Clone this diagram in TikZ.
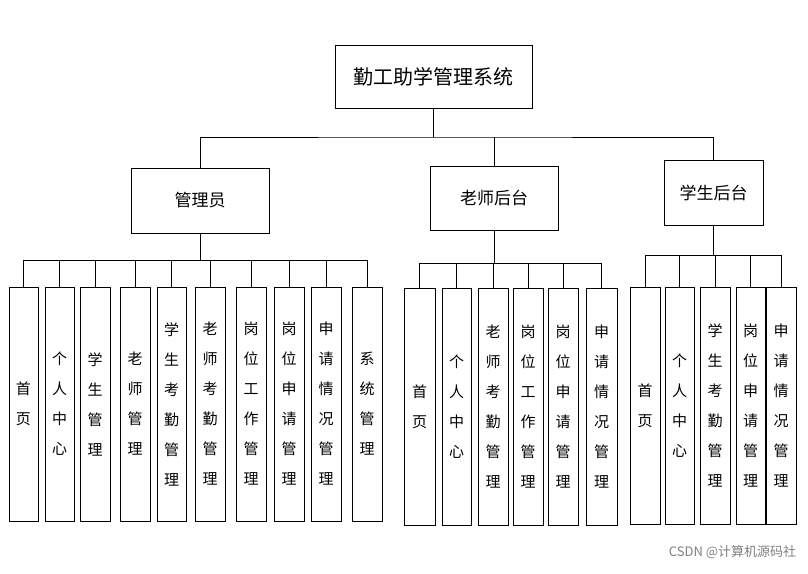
\documentclass[tikz,border=0pt]{standalone}
\usepackage{fontspec}
\newfontfamily\cjk{Noto Sans CJK SC}
\begin{document}
\begin{tikzpicture}[x=1pt,y=-1pt,line width=1pt,
  box/.style={draw,font=\cjk,inner sep=0pt,align=center},
  leaf/.style={box,font=\cjk\fontsize{15}{30}\selectfont}]
\useasboundingbox (0,0) rectangle (808,573);
\node[box,minimum width=197,minimum height=63,font=\cjk\fontsize{20}{24}\selectfont] (root) at (433.5,76.5) {勤工助学管理系统};
\node[box,minimum width=138,minimum height=65,font=\cjk\fontsize{17}{20}\selectfont] (adm) at (200,200.5) {管理员};
\node[box,minimum width=128,minimum height=64,font=\cjk\fontsize{17}{20}\selectfont] (tea) at (494,198) {老师后台};
\node[box,minimum width=99,minimum height=65,font=\cjk\fontsize{17}{20}\selectfont] (stu) at (713.5,192.5) {学生后台};
\coordinate (rb) at (433.5,137);
\draw (root.south) -- (rb);
\draw (adm.north) |- (rb) -| (stu.north);
\draw (tea.north) -- (tea.north |- rb);
% admin leaves
\foreach \n/\a/\b/\t in {a1/9/38/首\\页, a2/45/74/个\\人\\中\\心, a3/80/110/学\\生\\管\\理, a4/120/150/老\\师\\管\\理, a5/157/186/学\\生\\考\\勤\\管\\理, a6/195/225/老\\师\\考\\勤\\管\\理, a7/236/266/岗\\位\\工\\作\\管\\理, a8/274/304/岗\\位\\申\\请\\管\\理, a9/311/341/申\\请\\情\\况\\管\\理, a10/352/382/系\\统\\管\\理}{
  \node[leaf,minimum width=\b-\a,minimum height=234] (\n) at ({(\a+\b)/2},404) {\t};
  \draw (\n.north) -- (\n.north |- 0,260);
}
\draw (a1.north |- 0,260) -- (a10.north |- 0,260);
\draw (adm.south) -- (adm.south |- 0,260);
% teacher leaves
\foreach \n/\a/\b/\t in {t1/404/435/首\\页, t2/442/471/个\\人\\中\\心, t3/478/508/老\\师\\考\\勤\\管\\理, t4/513/543/岗\\位\\工\\作\\管\\理, t5/548/578/岗\\位\\申\\请\\管\\理, t6/586/617/申\\请\\情\\况\\管\\理}{
  \node[leaf,minimum width=\b-\a,minimum height=237] (\n) at ({(\a+\b)/2},406.5) {\t};
  \draw (\n.north) -- (\n.north |- 0,263);
}
\draw (t1.north |- 0,263) -- (t6.north |- 0,263);
\draw (tea.south) -- (tea.south |- 0,263);
% student leaves
\foreach \n/\a/\b/\t in {s1/630/660/首\\页, s2/665/694/个\\人\\中\\心, s3/700/730/学\\生\\考\\勤\\管\\理, s4/736/765/岗\\位\\申\\请\\管\\理, s5/766/796/申\\请\\情\\况\\管\\理}{
  \node[leaf,minimum width=\b-\a,minimum height=237] (\n) at ({(\a+\b)/2},405.5) {\t};
  \draw (\n.north) -- (\n.north |- 0,255);
}
\draw (s1.north |- 0,255) -- (s5.north |- 0,255);
\draw (stu.south) -- (stu.south |- 0,255);
\node[font=\cjk\fontsize{13}{15}\selectfont,text=gray,anchor=east] (wm) at (800,552) {CSDN @计算机源码社};
\end{tikzpicture}
\end{document}
